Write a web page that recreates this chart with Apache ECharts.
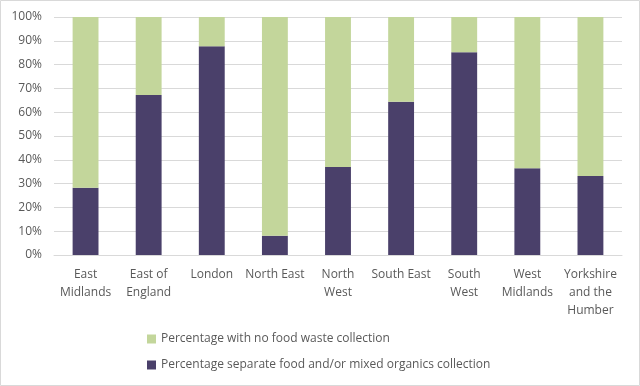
<!DOCTYPE html>
<html><head><meta charset="utf-8">
<script src="https://cdn.jsdelivr.net/npm/echarts@6/dist/echarts.min.js"></script>
<style>html,body{margin:0;padding:0;background:#fff}#c{width:640px;height:386px}</style>
</head><body><div id="c"></div>
<script>
const categories = ["East\nMidlands","East of\nEngland","London","North East","North\nWest","South East","South\nWest","West\nMidlands","Yorkshire\nand the\nHumber"];
const separateFood = [28.3, 67.2, 87.7, 8.1, 37.0, 64.4, 85.2, 36.4, 33.2];
const noFoodWaste = separateFood.map(v => +(100 - v).toFixed(1));
const yTicks = [0,10,20,30,40,50,60,70,80,90,100];
const seriesNames = ["Percentage with no food waste collection","Percentage separate food and/or mixed organics collection"];

const chart = echarts.init(document.getElementById('c'), null, {renderer:'canvas'});
const font = "'Open Sans', 'Noto Sans', sans-serif";
chart.setOption({
  animation:false,
  textStyle:{fontFamily:font},
  graphic:[{type:'rect',shape:{x:0.5,y:0.5,width:639,height:385},style:{fill:'none',stroke:'#d9d9d9',lineWidth:1},silent:true}],
  grid:{left:54,right:18,top:17,bottom:131,containLabel:false},
  legend:{
    orient:'vertical',left:142,top:328,itemWidth:9,itemHeight:9,itemGap:14,
    data:seriesNames,
    textStyle:{color:'#595959',fontSize:12,fontFamily:font},
    icon:'rect'
  },
  xAxis:{type:'category',data:categories,
    axisLine:{lineStyle:{color:'#d9d9d9'}},axisTick:{show:false},
    axisLabel:{color:'#595959',fontSize:12,lineHeight:18,margin:11,interval:0,fontFamily:font}},
  yAxis:{type:'value',min:0,max:100,interval:10,
    axisLabel:{formatter:v=>v+'%',color:'#595959',fontSize:12,margin:12,fontFamily:font},
    splitLine:{lineStyle:{color:'#d9d9d9'}},axisLine:{show:false},axisTick:{show:false}},
  series:[
    {name:seriesNames[1],type:'bar',stack:'a',data:separateFood,barWidth:'41%',itemStyle:{color:'#4a406a'}},
    {name:seriesNames[0],type:'bar',stack:'a',data:noFoodWaste,barWidth:'41%',itemStyle:{color:'#c3d69b'}}
  ]
});
</script></body></html>
